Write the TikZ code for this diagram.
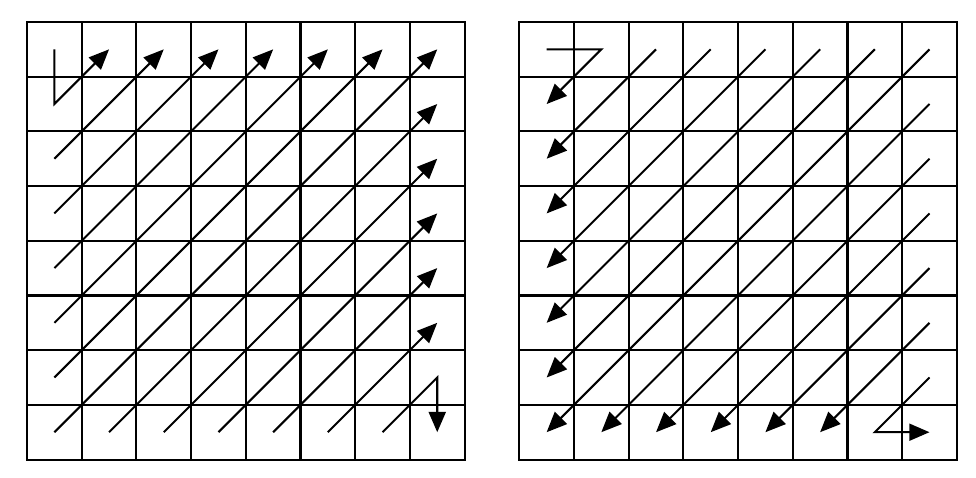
\documentclass[tikz,border=0pt]{standalone}
\usetikzlibrary{arrows.meta}
\begin{document}
\begin{tikzpicture}[x=1cm, y=1cm]
  \tikzstyle{board} = [line width=1.1pt, line cap=rect]
  \tikzstyle{scan} = [line width=1.05pt]
  \tikzstyle{head} = [-{Triangle[length=3.7mm, width=3.1mm]}]
  \useasboundingbox (-0.494,-0.329) rectangle (17.35,8.402);

  \draw[board] (0,0) grid (8,8);
  \draw[board] (9,0) grid (17,8);

  % cell centres, row 0 at the top
  \foreach \r in {0,...,7} {
    \foreach \c in {0,...,7} {
      \coordinate (a-\r-\c) at (\c+0.5, 7.5-\r);
      \coordinate (b-\r-\c) at (9.5+\c, 7.5-\r);
    }
  }

  % left board
  \draw[scan, head] (a-0-0) -- (a-1-0) -- (a-0-1);
  \foreach \r in {2,...,7}
    \draw[scan, head] (a-\r-0) -- (a-0-\r);
  \foreach \c in {1,...,5}
    \draw[scan, head] (a-7-\c) -- (a-\c-7);
  \draw[scan, head] (a-7-6) -- (a-6-7) -- (a-7-7);

  % right board
  \draw[scan, head] (b-0-0) -- (b-0-1) -- (b-1-0);
  \foreach \c in {2,...,7}
    \draw[scan, head] (b-0-\c) -- (b-\c-0);
  \foreach \r in {1,...,5}
    \draw[scan, head] (b-\r-7) -- (b-7-\r);
  \draw[scan, head] (b-6-7) -- (b-7-6) -- (b-7-7);
\end{tikzpicture}
\end{document}
